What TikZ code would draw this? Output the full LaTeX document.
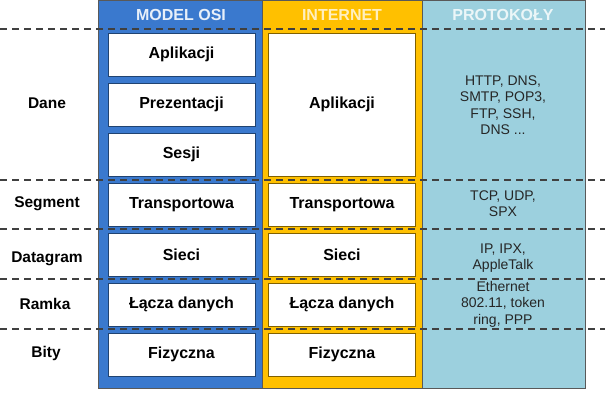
\documentclass[tikz,border=0pt]{standalone}
\usepackage{fontspec}
\setmainfont{Liberation Sans}
\usepackage{xcolor}
\definecolor{osiblue}{RGB}{58,121,206}
\definecolor{netyellow}{RGB}{255,192,0}
\definecolor{protblue}{RGB}{156,208,222}
\tikzstyle{divider} = [dash pattern=on 7pt off 5pt,line width=1.3pt,draw=black!75]

\begin{document}
\begin{tikzpicture}
        [
            x=1pt,y=-1pt,
            column/.style={draw=black!65,line width=0.8pt},
            box/.style={rectangle,fill=white,line width=0.9pt,minimum width=147pt,minimum height=43pt,inner sep=0pt,font=\bfseries\fontsize{16}{19}\selectfont},
            osibox/.style={box,draw=osiblue!55!black},
            netbox/.style={box,draw=netyellow!50!black},
            head/.style={font=\bfseries\fontsize{16}{19}\selectfont},
            unit/.style={font=\bfseries\fontsize{15.5}{19}\selectfont},
            proto/.style={align=center,font=\fontsize{14}{16.5}\selectfont,text=black!85},
        ]
    \useasboundingbox (0,0) rectangle (605,404);

    % kolumny
    \draw[column,fill=osiblue] (98,0) rectangle (262,388);
    \draw[column,fill=netyellow] (262,0) rectangle (422,388);
    \draw[column,fill=protblue] (422,0) rectangle (585,388);

    % linie przerywane
    \foreach \y in {29,180,229,279,329}
        \draw[divider] (0,\y) -- (605,\y);

    % naglowki
    \node[head,text=white!88!osiblue] (hosi) at (181,15){MODEL OSI};
    \node[head,text=white!75!netyellow] (hnet) at (342,15){INTERNET};
    \node[head,text=white!80!protblue] (hprot) at (503,15){PROTOKOŁY};

    % model OSI
    \foreach \t [count=\i] in {Aplikacji,Prezentacji,Sesji,Transportowa,Sieci,Łącza danych,Fizyczna}
        \node[osibox] (osi\i) at (181.5,{4.5+50*\i}){\t};

    % internet
    \node[netbox,minimum height=143pt] (net1) at (342,104.5){Aplikacji};
    \node[netbox] (net2) at (342,204.5){Transportowa};
    \node[netbox] (net3) at (342,254.5){Sieci};
    \node[netbox] (net4) at (342,304.5){Łącza danych};
    \node[netbox] (net5) at (342,354.5){Fizyczna};

    % jednostki danych
    \node[unit] (dane) at (47,103){Dane};
    \node[unit] (segment) at (47,204){Segment};
    \node[unit] (datagram) at (47,259){Datagram};
    \node[unit] (ramka) at (45,304){Ramka};
    \node[unit] (bity) at (46,353){Bity};

    % protokoly
    \node[proto] (p1) at (503,105){HTTP, DNS,\\SMTP, POP3,\\FTP, SSH,\\DNS ...};
    \node[proto] (p2) at (503,203.5){TCP, UDP,\\SPX};
    \node[proto] (p3) at (503,258){IP, IPX,\\AppleTalk};
    \node[proto] (p4) at (503,304){Ethernet\\802.11, token\\ring, PPP};
    \end{tikzpicture}
\end{document}
